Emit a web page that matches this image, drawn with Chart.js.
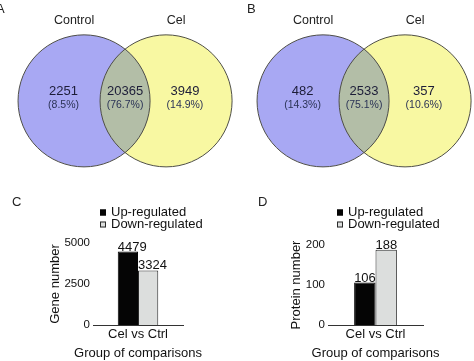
<!DOCTYPE html>
<html>
<head>
<meta charset="utf-8">
<script src="https://cdn.jsdelivr.net/npm/chart.js@4/dist/chart.umd.min.js"></script>
<style>
body { margin: 0; background: #fff; width: 474px; height: 361px; position: relative; overflow: hidden; font-family: "Liberation Sans", Arial, sans-serif; }
canvas { position: absolute; display: block; }
.tag { position: absolute; font-size: 13px; color: #222; line-height: 15px; }
</style>
</head>
<body>
<canvas id="vennGenes" width="237" height="180" style="left:0;top:0"></canvas>
<canvas id="vennProteins" width="237" height="180" style="left:239px;top:0"></canvas>
<canvas id="barGenes" width="237" height="181" style="left:0;top:180px"></canvas>
<canvas id="barProteins" width="237" height="181" style="left:237px;top:180px"></canvas>
<div class="tag" style="left:-4px;top:1px">A</div>
<div class="tag" style="left:247px;top:1px">B</div>
<div class="tag" style="left:12px;top:194px">C</div>
<div class="tag" style="left:258px;top:194px">D</div>
<script>
const vennSets = ["Control", "Cel"];
// Control only, both, Cel only
const geneOverlap = [2251, 20365, 3949];
const proteinOverlap = [482, 2533, 357];

const groups = ["Cel vs Ctrl"];
const regulation = ["Up-regulated", "Down-regulated"];
const geneUp = [4479];
const geneDown = [3324];
const proteinUp = [106];
const proteinDown = [188];

const FONT = '"Liberation Sans", Arial, sans-serif';

const vennPlugin = {
    id: "venn",
    afterDatasetsDraw(chart, args, opts) {
        const ctx = chart.ctx;
        const a = chart.getDatasetMeta(0).data[0];
        const b = chart.getDatasetMeta(1).data[0];
        const r1 = a.options.radius, r2 = b.options.radius;
        ctx.save();
        // shared part
        ctx.save();
        ctx.beginPath();
        ctx.arc(a.x, a.y, r1, 0, Math.PI * 2);
        ctx.clip();
        ctx.beginPath();
        ctx.arc(b.x, b.y, r2, 0, Math.PI * 2);
        ctx.fillStyle = "#b3bea7";
        ctx.fill();
        ctx.restore();
        ctx.strokeStyle = "#4f4f47";
        ctx.lineWidth = 1;
        [[a, r1], [b, r2]].forEach(([p, r]) => {
            ctx.beginPath();
            ctx.arc(p.x, p.y, r, 0, Math.PI * 2);
            ctx.stroke();
        });

        ctx.textAlign = "center";
        ctx.textBaseline = "middle";
        ctx.fillStyle = "#222";
        ctx.font = "12.5px " + FONT;
        ctx.fillText(chart.data.datasets[0].label, a.x - 10, a.y - r1 - 14);
        ctx.fillText(chart.data.datasets[1].label, b.x + 10, b.y - r2 - 14);

        const counts = opts.counts;
        const total = counts.reduce((s, v) => s + v, 0);
        const d = b.x - a.x;
        const xs = [a.x - d * 0.25, (a.x + b.x) / 2, b.x + d * 0.23];
        counts.forEach((v, i) => {
            ctx.font = "13px " + FONT;
            ctx.fillStyle = "#1d1d38";
            ctx.fillText(String(v), xs[i], a.y - 9);
            ctx.font = "10.5px " + FONT;
            ctx.fillStyle = "#2b3356";
            ctx.fillText("(" + (v / total * 100).toFixed(1) + "%)", xs[i], a.y + 4);
        });
        ctx.restore();
    }
};

function circleRadius(ctx) {
    const s = ctx.chart.scales.x;
    const r = s.getPixelForValue(1.61) - s.getPixelForValue(0);
    return isFinite(r) ? r : 0;
}

function vennChart(id, counts) {
    new Chart(document.getElementById(id), {
        type: "scatter",
        data: {
            datasets: [
                { label: vennSets[0], data: [{ x: -1, y: 0 }], backgroundColor: "#a8a8f3" },
                { label: vennSets[1], data: [{ x: 1, y: 0 }], backgroundColor: "#f8f8a2" }
            ]
        },
        options: {
            responsive: false,
            animation: false,
            events: [],
            layout: { padding: 0, autoPadding: false },
            datasets: {
                scatter: {
                    clip: false,
                    showLine: false,
                    pointRadius: circleRadius,
                    pointHoverRadius: circleRadius,
                    pointBorderWidth: 0
                }
            },
            scales: {
                x: { display: false, min: -3.05, max: 2.73 },
                y: { display: false, min: -1.93, max: 2.46 }
            },
            plugins: {
                legend: { display: false },
                tooltip: { enabled: false },
                venn: { counts: counts }
            }
        },
        plugins: [vennPlugin]
    });
}

vennChart("vennGenes", geneOverlap);
vennChart("vennProteins", proteinOverlap);

const regLegend = {
    id: "regLegend",
    afterDraw(chart, args, opts) {
        const ctx = chart.ctx;
        ctx.save();
        ctx.font = "13px " + FONT;
        ctx.textAlign = "left";
        ctx.textBaseline = "middle";
        chart.data.datasets.forEach((ds, i) => {
            const y = opts.y + i * 12;
            ctx.fillStyle = ds.backgroundColor;
            ctx.fillRect(opts.x, y - 3, 6, 6);
            ctx.strokeStyle = ds.borderColor;
            ctx.lineWidth = 1;
            ctx.strokeRect(opts.x + 0.5, y - 2.5, 5, 5);
            ctx.fillStyle = "#111";
            ctx.fillText(ds.label, opts.x + 11, y);
        });
        // x axis title, wider than the plot so drawn here without squeezing
        const area = chart.chartArea;
        ctx.textAlign = "center";
        ctx.fillText(opts.xTitle, (area.left + area.right) / 2, chart.height - 8);
        ctx.restore();
    }
};

const barValues = {
    id: "barValues",
    afterDatasetsDraw(chart) {
        const ctx = chart.ctx;
        ctx.save();
        ctx.font = "13px " + FONT;
        ctx.fillStyle = "#111";
        ctx.textAlign = "left";
        ctx.textBaseline = "alphabetic";
        chart.data.datasets.forEach((ds, i) => {
            chart.getDatasetMeta(i).data.forEach((bar, j) => {
                ctx.fillText(String(ds.data[j]), bar.x - bar.width / 2, bar.y - 1);
            });
        });
        ctx.restore();
    }
};

function barChart(id, up, down, cfg) {
    new Chart(document.getElementById(id), {
        type: "bar",
        data: {
            labels: groups,
            datasets: [
                { label: regulation[0], data: up, backgroundColor: "#050505", borderColor: "#050505", borderWidth: 1 },
                { label: regulation[1], data: down, backgroundColor: "#dcdedd", borderColor: "#2a2a2a", borderWidth: 1 }
            ]
        },
        options: {
            responsive: false,
            animation: false,
            events: [],
            layout: { padding: { top: cfg.top, right: cfg.right, left: 0, bottom: 0 }, autoPadding: false },
            datasets: { bar: { categoryPercentage: 0.45, barPercentage: 1 } },
            scales: {
                x: {
                    grid: { display: false, drawTicks: false },
                    border: { display: true, color: "#333", width: 1 },
                    ticks: { color: "#111", font: { family: FONT, size: 13 }, padding: 2 },
                    afterFit: s => { s.height = 36; }
                },
                y: {
                    min: 0,
                    max: cfg.max,
                    grid: { display: false, drawTicks: false },
                    border: { display: false },
                    ticks: { stepSize: cfg.step, color: "#111", font: { family: FONT, size: 11.5 }, padding: 3, callback: v => String(v) },
                    title: { display: true, text: cfg.title, color: "#111", font: { family: FONT, size: 13 }, padding: { top: cfg.titlePad, bottom: 0 } },
                    afterFit: s => { s.width = cfg.axisW; }
                }
            },
            plugins: {
                legend: { display: false },
                tooltip: { enabled: false },
                regLegend: { x: 100, y: 32.5, xTitle: "Group of comparisons" }
            }
        },
        plugins: [regLegend, barValues]
    });
}

barChart("barGenes", geneUp, geneDown, { max: 5000, step: 2500, title: "Gene number", top: 63, right: 54, axisW: 93, titlePad: 48 });
barChart("barProteins", proteinUp, proteinDown, { max: 200, step: 100, title: "Protein number", top: 65, right: 51, axisW: 91, titlePad: 52 });
</script>
</body>
</html>
